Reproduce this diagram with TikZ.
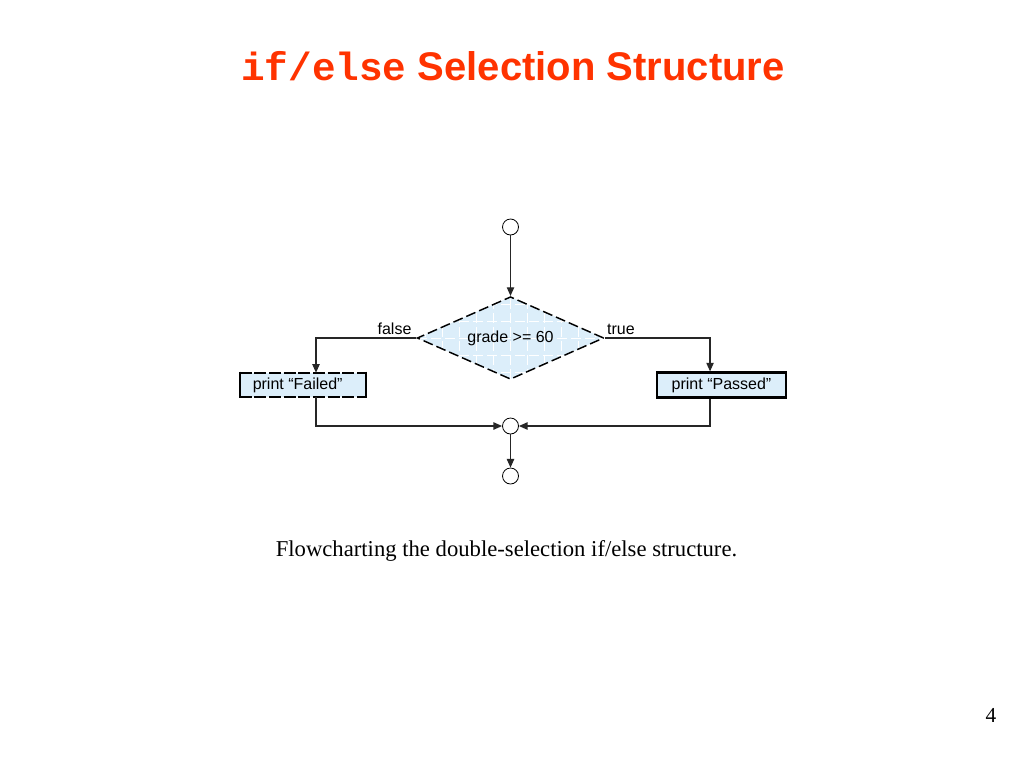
\documentclass[tikz,border=0pt]{standalone}
\usepackage{fontspec}
\setmainfont{Liberation Serif}
\setsansfont{Liberation Sans}
\setmonofont{Liberation Mono}
\usetikzlibrary{shapes.geometric,arrows.meta}
\definecolor{titlered}{HTML}{FF3300}
\definecolor{boxblue}{HTML}{DCEEFA}
\tikzset{
  arr/.style={draw=black!85, line width=1pt, -{Triangle[length=6.5pt,width=5.5pt]}},
  dot/.style={circle, draw=black, line width=0.6pt, fill=white, minimum size=12pt, inner sep=0pt},
  lbl/.style={font=\sffamily\fontsize{12}{14}\selectfont, inner sep=0pt},
  decbox/.style={diamond, shape aspect=2.25, fill=boxblue, draw=black, line width=1.1pt, dash pattern=on 7.5pt off 3pt,
     minimum width=140pt, minimum height=62pt, inner sep=0pt,
     font=\sffamily\fontsize{12}{14}\selectfont,
     path picture={\draw[white, line width=0.5pt, step=12.75pt]
       (path picture bounding box.south west) grid (path picture bounding box.north east);}},
  actfail/.style={rectangle, fill=boxblue, draw=none,
     minimum width=94.5pt, minimum height=18pt, inner sep=0pt, font=\sffamily\fontsize{12}{14}\selectfont},
  actpass/.style={rectangle, fill=boxblue, draw=black, line width=1.6pt,
     minimum width=96.75pt, minimum height=18.75pt, inner sep=0pt, font=\sffamily\fontsize{12}{14}\selectfont},
  edgesolid/.style={draw=black, line width=1.6pt},
  edgedash/.style={draw=black, line width=1.6pt, dash pattern=on 9pt off 2pt}
}
\begin{document}
\begin{tikzpicture}[x=0.75pt,y=-0.75pt]
\useasboundingbox[fill=white] (0,0) rectangle (1024,768);
% title
\node[anchor=base, text=titlered, inner sep=0pt] (title) at (513,80)
  {\fontsize{29.5}{34}\selectfont\ttfamily\bfseries if/else\hspace{8.5pt}\fontsize{30}{34}\selectfont\sffamily\bfseries Selection Structure};
% nodes
\node[dot] (start) at (510.5,227) {};
\node[decbox] (dec) at (510.5,338) {grade >= 60};
\node[actfail] (failed) at (303,385) {\hspace*{-8pt}print “Failed”};
\draw[edgedash] (failed.north west) -- (failed.north east);
\draw[edgedash] (failed.south west) -- (failed.south east);
\draw[edgesolid] ([yshift=0.8pt]failed.north west) -- ([yshift=-0.8pt]failed.south west);
\draw[edgesolid] ([yshift=0.8pt]failed.north east) -- ([yshift=-0.8pt]failed.south east);
\node[actpass] (passed) at (721.5,385) {print “Passed”};
\node[dot] (merge) at (510.5,426) {};
\node[dot] (end) at (510.5,476) {};
\node[lbl, anchor=base] (lfalse) at (394.5,334) {false};
\node[lbl, anchor=base] (ltrue) at (621,334) {true};
% connectors
\draw[arr] (start) -- (dec.north);
\draw[arr] (dec.west) -| ([xshift=9.75pt]failed.north);
\draw[arr] (dec.east) -| ([xshift=-8.6pt]passed.north);
\draw[arr] ([xshift=9.75pt]failed.south) |- (merge.west);
\draw[arr] ([xshift=-8.6pt]passed.south) |- (merge.east);
\draw[arr] (merge) -- (end);
% caption
\node[anchor=base, inner sep=0pt] (caption) at (506.5,556)
  {\fontsize{17}{20}\selectfont Flowcharting the double-selection if/else structure.};
\node[anchor=base, inner sep=0pt] (page) at (991,722) {\fontsize{16}{19}\selectfont 4};
\end{tikzpicture}
\end{document}
